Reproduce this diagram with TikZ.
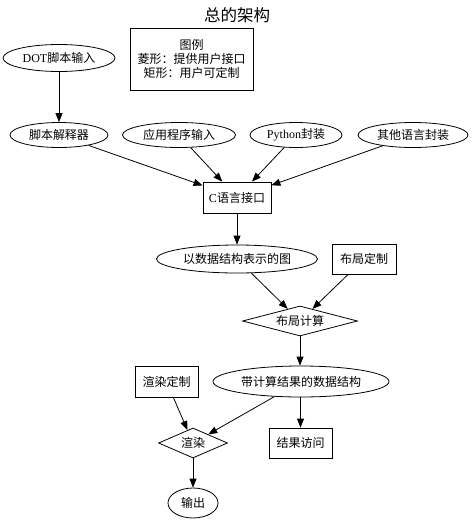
\documentclass[tikz,border=0pt]{standalone}
\usepackage{fontspec}
\setmainfont{Liberation Serif}
\newfontfamily\cjk{Noto Sans CJK SC}
\usetikzlibrary{shapes.geometric,arrows.meta}
\newcommand\lat[1]{{\rmfamily #1}}
\begin{document}
\begin{tikzpicture}[x=1pt,y=-1pt,
  every node/.style={font=\cjk\fontsize{12}{14}\selectfont, inner sep=0pt},
  ell/.style={draw, ellipse, line width=0.8pt},
  box/.style={draw, rectangle, line width=0.8pt},
  dia/.style={draw, diamond, line width=0.8pt},
  arr/.style={-{Triangle[length=9pt,width=7pt]}, line width=0.8pt}]
\fill[white] (0,0) rectangle (474,523);
\useasboundingbox (0,0) rectangle (474,523);
% title
\node[font=\cjk\fontsize{16.5}{18}\selectfont] (title) at (237,15) {总的架构};
% legend
\node[box, minimum width=123pt, minimum height=62pt, align=center] (legend) at (191.5,59)
  {图例\\菱形：提供用户接口\\矩形：用户可定制};
% nodes
\node[ell, minimum width=112pt, minimum height=27pt] (dot) at (59,58) {\lat{DOT}脚本输入};
\node[ell, minimum width=98pt, minimum height=25pt] (interp) at (59,135) {脚本解释器};
\node[ell, minimum width=113pt, minimum height=25pt] (app) at (179,135) {应用程序输入};
\node[ell, minimum width=92pt, minimum height=25pt] (py) at (296,135) {\lat{Python}封装};
\node[ell, minimum width=110pt, minimum height=25pt] (other) at (413,135) {其他语言封装};
\node[box, minimum width=68pt, minimum height=31pt] (capi) at (237,197.5) {\lat{C}语言接口};
\node[ell, minimum width=161pt, minimum height=28pt] (graph) at (237,259) {以数据结构表示的图};
\node[box, minimum width=64pt, minimum height=30pt] (layoutc) at (364,259) {布局定制};
\node[dia, minimum width=115pt, minimum height=30pt, aspect=3.83] (layout) at (300,321) {布局计算};
\node[ell, minimum width=176pt, minimum height=31pt] (result) at (301,381.5) {带计算结果的数据结构};
\node[box, minimum width=63pt, minimum height=31pt] (renderc) at (166.5,381.5) {渲染定制};
\node[dia, minimum width=69pt, minimum height=30pt, aspect=2.3] (render) at (193,443) {渲染};
\node[box, minimum width=63pt, minimum height=30pt] (access) at (300.5,443) {结果访问};
\node[ell, minimum width=50pt, minimum height=30pt] (out) at (193,503) {输出};
% edges
\draw[arr] (dot) -- (interp);
\draw[arr] (interp) -- (capi);
\draw[arr] (app) -- (capi);
\draw[arr] (py) -- (capi);
\draw[arr] (other) -- (capi);
\draw[arr] (capi) -- (graph);
\draw[arr] (graph) -- (layout);
\draw[arr] (layoutc) -- (layout);
\draw[arr] (layout.south) -- (layout.south |- result.north);
\draw[arr] (renderc) -- (render);
\draw[arr] (result) -- (render);
\draw[arr] (result.south -| access.north) -- (access.north);
\draw[arr] (render) -- (out);
\end{tikzpicture}
\end{document}
